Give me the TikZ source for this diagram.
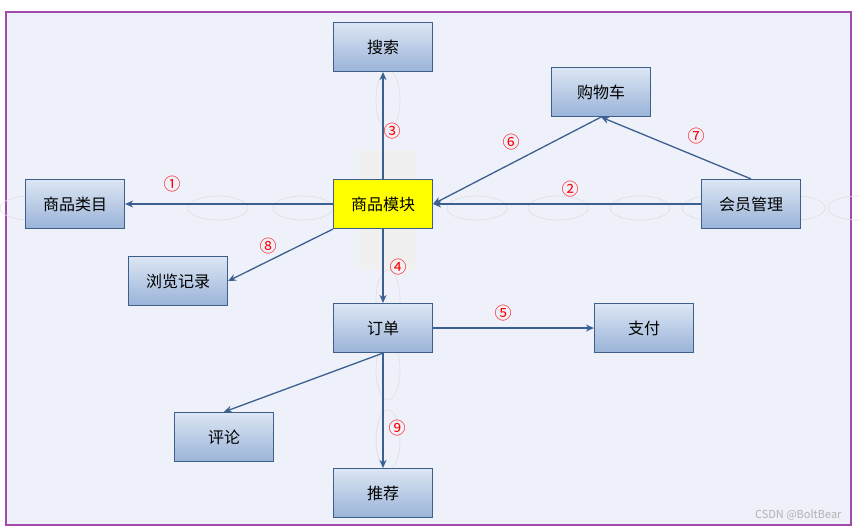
\documentclass[tikz,border=0pt]{standalone}
\usepackage{fontspec}
\setmainfont{Noto Sans CJK SC}
\usetikzlibrary{arrows.meta}
\definecolor{bordc}{HTML}{3E5F8A}
\definecolor{topc}{HTML}{DCE6F4}
\definecolor{botc}{HTML}{9AB3D8}
\definecolor{linec}{HTML}{3A5F90}
\definecolor{bgc}{HTML}{EEF1F9}
\definecolor{framec}{HTML}{A24AAE}
\tikzset{
 box/.style={draw=bordc,line width=1.2pt,top color=topc,bottom color=botc,minimum width=99pt,minimum height=49pt,font=\fontsize{16}{19}\selectfont},
 conn/.style={linec,line width=1.3pt,-{Stealth[length=8pt,width=7pt]}},
 num/.style={text=red,font=\fontsize{17}{20}\selectfont},
 faint/.style={draw=gray!25,line width=0.6pt}
}
\begin{document}
\begin{tikzpicture}[x=1pt,y=-1pt]
\useasboundingbox (0,0) rectangle (859,531);
\fill[white] (0,0) rectangle (859,531);
\draw[framec,line width=2pt,fill=bgc] (6,12) rectangle (851,525);
% faint decorations
\fill[gray!12] (358,150) rectangle (416,270);
\foreach \x in {30,218,303,477,558,640,712,795,858} \draw[faint] (\x,208) ellipse (30 and 12);
\foreach \y in {100,300,370,440} \draw[faint] (388,\y) ellipse (12 and 30);
% nodes
\node[box] (search) at (383,47) {搜索};
\node[box] (cart) at (601,92) {购物车};
\node[box] (cat) at (75,204) {商品类目};
\node[box,top color=yellow,bottom color=yellow,fill=yellow] (mod) at (383,204) {商品模块};
\node[box] (mem) at (751,204) {会员管理};
\node[box] (hist) at (178,281) {浏览记录};
\node[box] (order) at (383,328) {订单};
\node[box] (pay) at (644,328) {支付};
\node[box] (rev) at (224,437) {评论};
\node[box] (rec) at (383,493) {推荐};
% connectors
\draw[conn] (mod) -- (search);
\draw[conn] (mod) -- (cat);
\draw[conn] (mem) -- (mod);
\draw[conn] (cart.south) -- (mod.east);
\draw[conn] (mem.north) -- (cart.south);
\draw[conn] (mod.south west) -- (hist.east);
\draw[conn] (mod) -- (order);
\draw[conn] (order) -- (pay);
\draw[conn] (order.south) -- (rev.north);
\draw[conn] (order) -- (rec);
% labels
\node[num] (n1) at (172,184) {①};
\node[num] (n2) at (570,189) {②};
\node[num] (n3) at (392,131) {③};
\node[num] (n4) at (398,267) {④};
\node[num] (n5) at (503,313) {⑤};
\node[num] (n6) at (511,142) {⑥};
\node[num] (n7) at (696,136) {⑦};
\node[num] (n8) at (268,246) {⑧};
\node[num] (n9) at (397,428) {⑨};
\node[text=gray!60,font=\fontsize{11}{13}\selectfont,anchor=east] (wm) at (845,515) {CSDN @BoltBear};
\end{tikzpicture}
\end{document}
